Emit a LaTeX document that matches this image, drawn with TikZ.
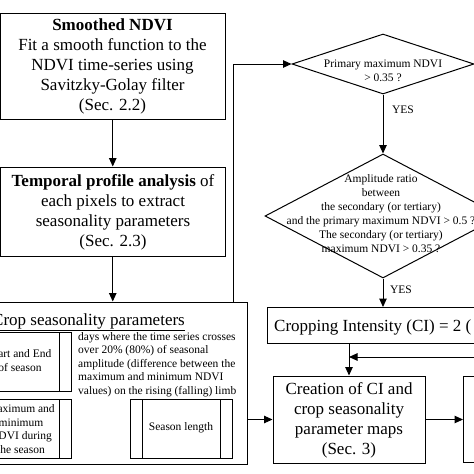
\documentclass[tikz,border=0pt]{standalone}
\usepackage{fontspec}
\setmainfont{Liberation Serif}
\usetikzlibrary{arrows.meta,shapes.geometric,calc}
\tikzset{
  box/.style={draw,line width=1pt,inner sep=0pt,rectangle},
  dia/.style={draw,line width=1pt,inner sep=0pt,diamond},
  arr/.style={line width=1pt,-{Triangle[length=8.5pt,width=7.5pt]}},
  big/.style={font=\fontsize{17}{20}\selectfont,align=center},
  small/.style={font=\fontsize{11.5}{14}\selectfont,align=center},
  tiny/.style={font=\fontsize{11.5}{13.5}\selectfont},
}
\begin{document}
\begin{tikzpicture}[x=1pt,y=-1pt]
\useasboundingbox (0,0) rectangle (474,474);
\clip (0,0) rectangle (474,474);
\fill[white] (0,0) rectangle (474,474);
% left column
\node[box,minimum width=224.5pt,minimum height=106pt] (b1) at (112.75,66) {};
\node[big] at (112.5,66.5) {\textbf{Smoothed NDVI}\\Fit a smooth function to the\\NDVI time-series using\\Savitzky-Golay filter\\(Sec. 2.2)};
\node[box,minimum width=224.5pt,minimum height=89pt] (b2) at (112.75,211.5) {};
\node[big] at (113,212.5) {\textbf{Temporal profile analysis} of\\each pixels to extract\\seasonality parameters\\(Sec. 2.3)};
\node[box,minimum width=267pt,minimum height=162pt] (b3) at (113.5,383) {};
\node[big,anchor=base] at (88.5,325) {\underline{Crop seasonality parameters}};
% inner boxes
\node[box,minimum width=90pt,minimum height=59pt] (ia) at (26,361.5) {};
\draw[line width=1pt] (59,332) -- (59,391);
\node[small] at (20,361) {Start and End\\of season};
\node[box,minimum width=90pt,minimum height=59pt] (ib) at (26,428.5) {};
\draw[line width=1pt] (59,399) -- (59,458);
\node[font=\fontsize{11.5}{13.6}\selectfont,align=center] at (21,429) {Maximum and\\minimum\\NDVI during\\the season};
\node[tiny,align=left,anchor=north west,inner sep=0pt] at (78,332) {days where the time series crosses\\over 20\% (80\%) of seasonal\\amplitude (difference between the\\maximum and minimum NDVI\\values) on the rising (falling) limb};
\node[box,minimum width=102pt,minimum height=59pt] (sl) at (181,428.5) {};
\draw[line width=1pt] (142,399) -- (142,458) (220,399) -- (220,458);
\node[small] at (181,428) {Season length};
% arrows left column
\draw[arr] (b1.south) -- (b2.north);
\draw[arr] (b2.south) -- (b3.north -| b2.south);
% diamonds
\node[dia,minimum width=182pt,minimum height=60pt] (d1) at (383,64) {};
\node[small] at (383,71) {Primary maximum NDVI\\> 0.35 ?};
\node[dia,minimum width=236pt,minimum height=124pt] (d2) at (383,216) {};
\node[small] at (381,214) {Amplitude ratio\\between\\the secondary (or tertiary)\\and the primary maximum NDVI > 0.5 ?\\The secondary (or tertiary)\\maximum NDVI > 0.35 ?};
\coordinate (lx) at (233,0);
\draw[arr] (lx |- b3.north) |- (d1.west);
\draw[arr] (d1.south) -- (d2.north);
\node[small] at (403,110) {YES};
% CI box
\node[box,minimum width=230pt,minimum height=36pt,anchor=north west] (ci) at (267,307) {};
\node[big,anchor=base west,inner sep=0pt] at (274,331) {Cropping Intensity (CI) = 2 (};
\draw[arr] (d2.south) -- (d2.south |- ci.north);
\node[small] at (401,290) {YES};
% creation box
\node[box,minimum width=152pt,minimum height=87pt] (cr) at (349,419.5) {};
\node[big] at (349,420) {Creation of CI and\\crop seasonality\\parameter maps\\(Sec. 3)};
\draw[arr] (cr.north |- ci.south) -- (cr.north);
\coordinate (rin) at (480,357);
\draw[arr] (rin) -- (rin -| cr.north);
\draw[arr] (b3.east |- cr.west) -- (cr.west);
% partial box at right
\node[box,minimum width=40pt,minimum height=86pt,anchor=north west] (pb) at (463,376) {};
\draw[arr] (cr.east) -- (pb.west);
\end{tikzpicture}
\end{document}
